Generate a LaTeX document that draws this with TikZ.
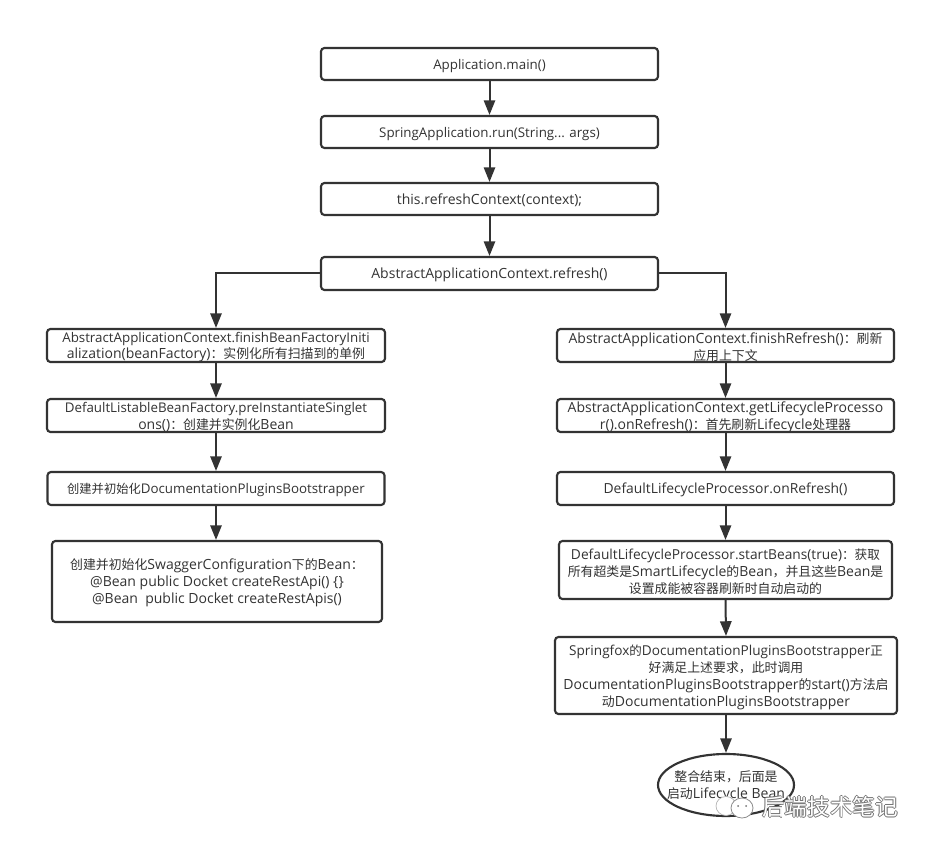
\documentclass[tikz,border=0pt]{standalone}
\usepackage{fontspec}
\setmainfont{Open Sans}
\newfontfamily\cjk[Scale=0.92]{Noto Sans CJK SC}
\newfontfamily\cjkmark{Noto Sans CJK SC}
\usetikzlibrary{arrows.meta,shapes.geometric}
\newcommand{\zh}[1]{{\cjk #1}}
\newcommand{\fs}[1]{\fontsize{#1}{12.7}\selectfont}
\definecolor{ink}{HTML}{333333}
\tikzset{
  flowbox/.style={draw=ink,line width=1.6pt,rounded corners=2.6pt,fill=white,inner sep=0pt},
  boxtext/.style={text=ink,align=center,font=\fontsize{10.5}{12.7}\selectfont,inner sep=0pt,yshift=-1.2pt},
  endoval/.style={draw=ink,line width=1.6pt,ellipse,fill=white,inner xsep=-14pt,inner ysep=0pt},
  flowline/.style={draw=ink,line width=1.5pt,-{Triangle[length=11pt,width=8.5pt]}},
  marktext/.style={text=white,font=\cjkmark\fontsize{17}{20}\selectfont,inner sep=0pt}
}
\newcommand{\flowbox}[6]{\node[flowbox,minimum width=#4*0.75pt,minimum height=#5*0.75pt,label={[boxtext]center:{#6}}] (#1) at (#2,#3) {};}
\begin{document}
\begin{tikzpicture}[x=0.75pt,y=-0.75pt]
\useasboundingbox (0,0) rectangle (928,848);
\fill[white] (0,0) rectangle (928,848);
\flowbox{main}{489.5}{64}{337}{32}{\fs{10}Application.main()}
\flowbox{run}{489.5}{132}{337}{32}{\fs{10}SpringApplication.run(String... args)}
\flowbox{ctx}{489.5}{199}{337}{32}{\fs{10.5}this.refreshContext(context);}
\flowbox{refresh}{489.5}{273.5}{337}{33}{\fs{10.5}AbstractApplicationContext.refresh()}
\flowbox{la}{216}{345.5}{338}{33}{\fs{10}AbstractApplicationContext.finishBeanFactoryIniti\\alization(beanFactory)\zh{：实例化所有扫描到的单例}}
\flowbox{lb}{216}{415.5}{338}{33}{\fs{10}DefaultListableBeanFactory.preInstantiateSinglet\\ons()\zh{：创建并实例化}Bean}
\flowbox{lc}{216}{488.5}{337}{33}{\fs{10}\zh{创建并初始化}DocumentationPluginsBootstrapper}
\flowbox{ld}{217}{581.5}{330}{81}{\fs{10.5}\zh{创建并初始化}SwaggerConfiguration\zh{下的}Bean\zh{：}\\@Bean public Docket createRestApi() \{\}\\@Bean\ \ public Docket createRestApis()}
\flowbox{ra}{725.5}{345.5}{337}{33}{\fs{10.5}AbstractApplicationContext.finishRefresh()\zh{：刷新}\\\zh{应用上下文}}
\flowbox{rb}{725.5}{415.5}{337}{33}{\fs{10.5}AbstractApplicationContext.getLifecycleProcesso\\r().onRefresh()\zh{：首先刷新}Lifecycle\zh{处理器}}
\flowbox{rc}{725.5}{488.5}{337}{33}{\fs{10.4}DefaultLifecycleProcessor.onRefresh()}
\flowbox{rd}{725.5}{570}{333}{58}{\fs{10.3}DefaultLifecycleProcessor.startBeans(true)\zh{：获取}\\\zh{所有超类是}SmartLifecycle\zh{的}Bean\zh{，并且这些}Bean\zh{是}\\\zh{设置成能被容器刷新时自动启动的}}
\flowbox{re}{726}{675.5}{342}{77}{\fs{10.2}Springfox\zh{的}DocumentationPluginsBootstrapper\zh{正}\\\zh{好满足上述要求，此时调用}\\DocumentationPluginsBootstrapper\zh{的}start()\zh{方法启}\\\zh{动}DocumentationPluginsBootstrapper}
\node[endoval,minimum width=136*0.75pt,minimum height=62*0.75pt,label={[boxtext]center:{\zh{整合结束，后面是}\\\zh{启动}Lifecycle Bean}}] (fin) at (726,785) {};
\draw[flowline] (main) -- (run);
\draw[flowline] (run) -- (ctx);
\draw[flowline] (ctx) -- (refresh);
\draw[flowline] (refresh.west) -| (la.north);
\draw[flowline] (refresh.east) -| (ra.north);
\draw[flowline] (la) -- (lb);
\draw[flowline] (lb) -- (lc);
\draw[flowline] (lc.south) -- (lc.south |- ld.north);
\draw[flowline] (ra) -- (rb);
\draw[flowline] (rb) -- (rc);
\draw[flowline] (rc) -- (rd);
\draw[flowline] (rd.south) -- (re.north);
\draw[flowline] (re) -- (fin);
% watermark
\fill[white,draw=black!30,line width=0.5pt] (726,806) ellipse [x radius=10,y radius=9.5];
\fill[white,draw=black!45,line width=0.6pt] (742,808) ellipse [x radius=11,y radius=10];
\fill[black!55] (738,806) circle (1); \fill[black!55] (746,806) circle (1);
\foreach \dx/\dy in {-0.8/0,0.8/0,0/-0.8,0/0.8}{\node[text=black!55,font=\cjkmark\fontsize{17}{20}\selectfont,inner sep=0pt] at ([shift={(\dx,\dy)}]830,807) {后端技术笔记};}
\node[marktext] (wm) at (830,807) {后端技术笔记};
\end{tikzpicture}
\end{document}
